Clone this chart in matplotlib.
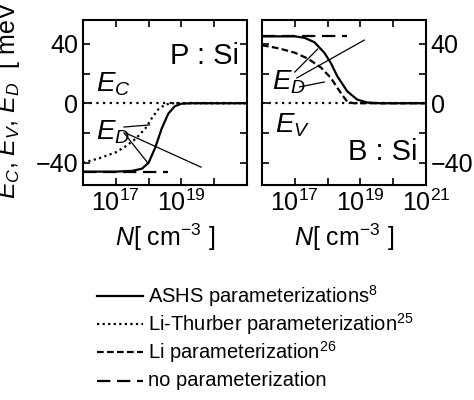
import matplotlib
matplotlib.use("Agg")
import matplotlib.pyplot as plt
import numpy as np

plt.rcParams['font.family'] = ['Liberation Sans', 'DejaVu Sans']
plt.rcParams['mathtext.fontset'] = 'custom'
plt.rcParams['mathtext.it'] = 'Liberation Sans:italic'
plt.rcParams['mathtext.rm'] = 'Liberation Sans'

# log10(N) sample points and energies (meV)
p_ashs_x = [16, 17, 17.5, 17.8, 18.0, 18.2, 18.4, 18.6, 18.8, 19.0, 19.3, 21]
p_ashs_y = [-46, -46, -45.5, -44, -40, -30, -17, -7, -2, -0.3, 0, 0]
p_lt_x = [16, 16.5, 17, 17.3, 17.6, 17.9, 18.1, 18.3, 18.5, 18.7, 21]
p_lt_y = [-40, -37, -33, -29, -24, -17, -10, -4, -1, 0, 0]
p_none_x = [16, 21]
p_none_y = [-46, -46]

b_ashs_x = [16, 17, 17.3, 17.6, 17.9, 18.1, 18.3, 18.6, 18.9, 19.2, 19.6, 21]
b_ashs_y = [45, 45, 44, 41, 34, 27, 18, 8, 2.5, 0.5, 0, 0]
b_li_x = [16, 16.5, 17, 17.4, 17.8, 18.1, 18.4, 18.6, 18.8, 21]
b_li_y = [39, 37, 34, 30, 24, 17, 7, 1, 0, 0]
b_none_x = [16, 21]
b_none_y = [45, 45]

fig = plt.figure(figsize=(4.74, 4.0), dpi=100)
W, H = 474, 400
axL = fig.add_axes([83/W, 1-185/H, 164/W, 165/H])
axR = fig.add_axes([262/W, 1-185/H, 164/W, 165/H])

lw = 1.6
for ax in (axL, axR):
    ax.set_xscale('log')
    ax.set_xlim(1e16, 1e21)
    ax.set_ylim(-55, 56)
    ax.axhline(0, color='black', ls=(0, (1, 2)), lw=lw)
    ax.set_xticks([1e17, 1e19]) if ax is axL else ax.set_xticks([1e17, 1e19, 1e21])
    ax.set_xticks([1e16, 1e18, 1e20, 1e21] if ax is axL else [1e16, 1e18, 1e20], minor=True)
    ax.set_yticks([-40, 0, 40])
    ax.set_yticks([-20, 20], minor=True)
    ax.tick_params(which='both', direction='in', top=True, right=True, left=True, labelsize=18, length=5, width=1.2)
    ax.tick_params(axis='x', which='minor', labelbottom=False)
    for s in ax.spines.values():
        s.set_linewidth(1.5)
    ax.set_xlabel(r'$N$[ cm$^{-3}$ ]', fontsize=18)

axL.plot(10**np.array(p_none_x), p_none_y, color='black', ls=(0, (6, 3)), lw=lw)
axL.plot(10**np.array(p_lt_x), p_lt_y, color='black', ls=(0, (1, 1.5)), lw=lw)
axL.plot(10**np.array(p_ashs_x), p_ashs_y, color='black', lw=lw)
axL.set_ylabel(r'$E_C$, $E_V$, $E_D$  [ meV ]', fontsize=18)
axL.yaxis.set_label_coords(-0.37, 0.55)
axL.text(0.95, 0.78, 'P : Si', transform=axL.transAxes, ha='right', va='center', fontsize=21)
axL.text(0.08, 0.61, r'$E_C$', transform=axL.transAxes, va='center', fontsize=20)
axL.text(0.08, 0.32, r'$E_D$', transform=axL.transAxes, va='center', fontsize=20)
for (x1, y1, x2, y2) in [(17.25, -16, 18.03, -14.6), (17.25, -20, 17.97, -40), (17.3, -20, 19.6, -43)]:
    axL.plot([10**x1, 10**x2], [y1, y2], color='black', lw=0.9)

axR.plot(10**np.array(b_none_x), b_none_y, color='black', ls=(0, (6, 3)), lw=lw)
axR.plot(10**np.array(b_li_x), b_li_y, color='black', ls=(0, (3, 1.5)), lw=lw)
axR.plot(10**np.array(b_ashs_x), b_ashs_y, color='black', lw=lw)
axR.tick_params(labelleft=False, labelright=True)
axR.text(0.95, 0.2, 'B : Si', transform=axR.transAxes, ha='right', va='center', fontsize=21)
axR.text(0.08, 0.36, r'$E_V$', transform=axR.transAxes, va='center', fontsize=20)
axR.text(0.06, 0.62, r'$E_D$', transform=axR.transAxes, va='center', fontsize=20)
for (x1, y1, x2, y2) in [(17.0, 21, 17.7, 36.5), (17.06, 17, 19.12, 42.5), (17.15, 11, 17.9, 14.3)]:
    axR.plot([10**x1, 10**x2], [y1, y2], color='black', lw=0.9)

# legend
entries = [('-', 'ASHS parameterizations$^{8}$'),
           ((0, (1, 1.5)), 'Li-Thurber parameterization$^{25}$'),
           ((0, (3, 1.5)), 'Li parameterization$^{26}$'),
           ((0, (6, 3)), 'no parameterization')]
ys = [296, 324, 352, 381]
for (ls, lab), y in zip(entries, ys):
    yf = 1 - y/H
    fig.add_artist(plt.Line2D([97/W, 143/W], [yf, yf], color='black', ls=ls, lw=lw))
    fig.text(148/W, yf, lab, fontsize=14.5, va='center')

fig.savefig('out.png', dpi=100)
